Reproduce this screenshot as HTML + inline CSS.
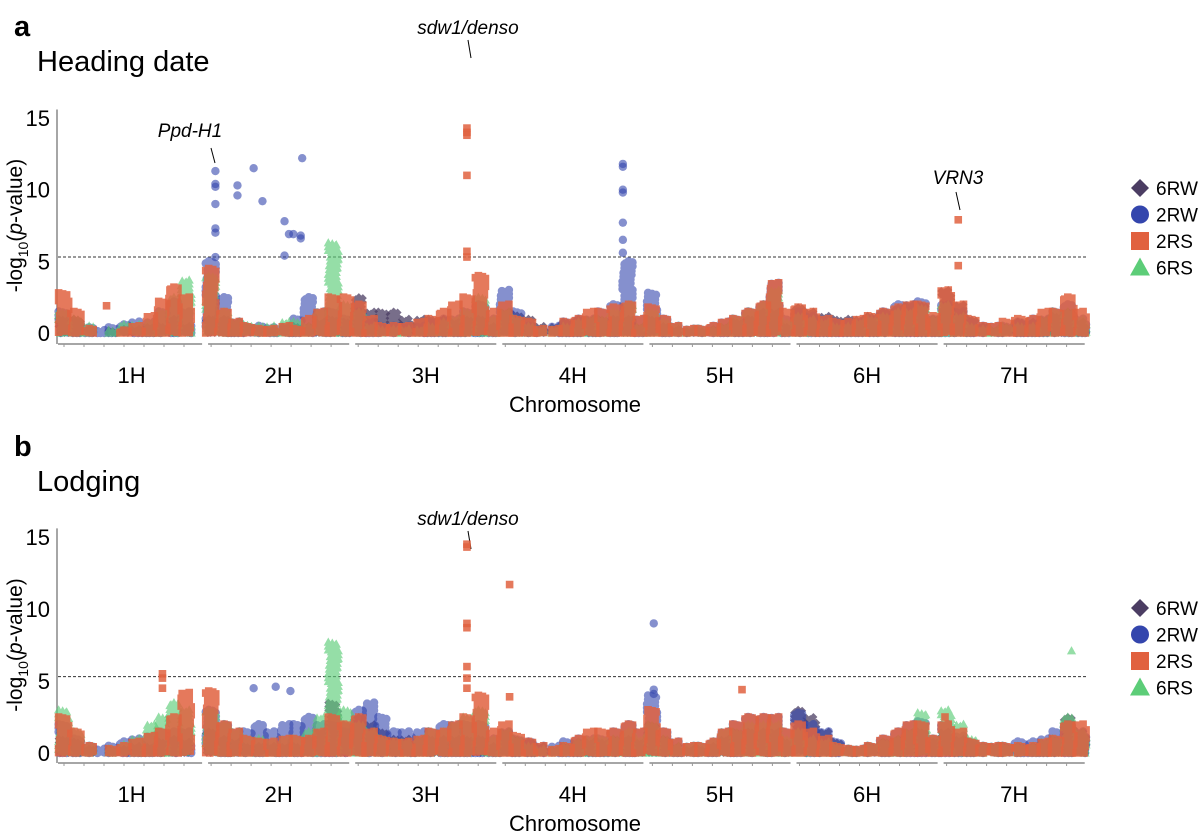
<!DOCTYPE html>
<html><head><meta charset="utf-8"><style>
body{margin:0;background:#fff;}
svg{display:block;font-family:"Liberation Sans",sans-serif;}
</style></head><body>
<svg id="chart" width="1200" height="832" viewBox="0 0 1200 832" xmlns="http://www.w3.org/2000/svg">
<g id="static"></g>
<g id="marks"></g>
</svg>
<script>
// ---- Data (12 bins per chromosome, -1 = no markers) ----
const chromosomes = ["1H","2H","3H","4H","5H","6H","7H"];
const seriesNames = ["6RW","2RW","6RS","2RS"];
const yTicks = [0,5,10,15];
const threshold = 5.3;
// Panel a: heading date
const hd_6RW = [1,1,0.3,-1,0.2,0.3,0.3,0.5,0.5,1,0.5,-1, 1,1,0.8,0.5,0.3,0.3,0.5,0.5,0.5,0.8,1,0.8, 2.5,1.5,1.5,1.5,1,1,1,1,0.8,1,1,0.5, 1.5,1.3,1,0.5,0.5,0.8,1,1,1,1,1,0.5, 1,0.5,0.3,0.2,0.2,0.3,0.5,0.8,1,1.5,1.5,0.5, 1.8,1.5,1.2,1,1,1,1.2,1.5,1.8,2,2,1, 3,2,1,0.5,0.3,0.5,0.8,0.8,1,1.2,1.5,0.8];
const hd_2RW = [1.5,0.8,0.4,0.2,0.4,0.6,0.8,0.8,1.5,2.2,1.5,-1, 5,2.5,0.8,0.5,0.5,0.4,0.5,1,2.5,1.5,1.5,1, 1.5,0.8,0.5,0.5,0.5,0.5,0.8,1,1,1.5,2,1, 3,1.5,0.5,0.3,0.5,0.8,1,1,1.5,2,5,1, 2.8,1,0.5,0.3,0.3,0.5,0.8,1,1.5,2,3.5,1, 1.5,1.2,1,0.8,0.8,0.8,1,1.5,2,2,2.2,1, 2,1.5,0.8,0.5,0.5,0.5,0.8,1,1,1.5,2,1];
const hd_6RS = [1.5,1,0.5,-1,0.2,0.6,0.6,0.8,1.5,2.5,3.7,-1, 4,1.5,0.8,0.6,0.5,0.5,0.8,0.8,0.5,1.5,6.3,2, 1.5,0.5,0.3,0.3,0.3,0.3,0.5,0.8,1,1.5,2.5,1, 1.5,1,0.5,0.3,0.3,0.5,0.8,1,1,1.5,2,0.5, 1.5,0.8,0.5,0.3,0.3,0.3,0.5,1,1.5,2,3,0.8, 1.2,1,0.8,0.5,0.5,0.8,1,1.2,1.5,1.5,1.8,1, 2,1.2,0.5,0.3,0.3,0.5,0.5,0.5,1,1.5,1.5,1];
const hd_2RS = [2.8,1.5,0.3,-1,-1,0.2,0.5,1.2,2.2,3.2,2.5,-1, 4.5,1.5,0.8,0.5,0.3,0.3,0.5,0.3,1,1.5,2.5,2.5, 2,1,0.5,0.5,0.5,0.8,1,1.5,2,2.5,4,1.5, 2,1,0.8,0.3,0.3,0.8,1,1.5,1.5,1.8,2,1, 1.8,1,0.5,0.3,0.3,0.5,0.8,1,1.5,2,3.5,1.5, 1.8,1.5,1,0.8,0.8,1,1.2,1.5,1.8,2,2,1.2, 3,2,1,0.5,0.5,0.8,1,1,1.5,1.5,2.5,1.5];
// outliers: [position (chromosome units), value]
const hd_out_2RW = [[1.07,11.3],[1.07,10.4],[1.07,10.2],[1.07,9],[1.07,7.3],[1.07,7],[1.07,5.3],[1.22,10.3],[1.22,9.6],[1.33,11.5],[1.39,9.2],[1.54,7.8],[1.54,5.4],[1.57,6.9],[1.60,6.9],[1.65,6.6],[1.65,6.8],[1.66,12.2],[3.84,11.8],[3.84,11.6],[3.84,10],[3.84,9.8],[3.84,7.7],[3.84,6.5],[3.84,5.6]];
const hd_out_2RS = [[2.78,14.3],[2.78,14],[2.78,13.8],[2.78,11],[2.78,5.7],[2.78,5.3],[6.12,7.9],[6.12,4.7],[0.33,1.9]];
const hd_out_6RS = [];
// Panel b: lodging
const lg_6RW = [1,0.8,0.3,-1,0.3,0.3,0.5,0.5,0.8,1,0.8,-1, 1.5,1,0.8,0.5,0.5,0.5,0.5,0.5,1,1.5,3.5,2, 2.5,2,1.5,1,1,1,1,1,1,1,1,0.5, 1.5,1,0.8,0.5,0.3,0.5,0.8,0.8,0.8,1,1,0.8, 2,1,0.5,0.3,0.3,0.5,1,1.5,1.5,1.5,1.5,0.8, 3,2.5,1.5,0.8,0.3,0.3,0.5,0.8,1,1.5,1.5,0.8, 1.5,1,0.8,0.5,0.5,0.5,0.5,0.5,0.8,1,2.5,1.5];
const lg_2RW = [2,1,0.5,0.3,0.5,0.8,1,1.2,1.5,1.5,1.5,-1, 3,2,1.5,1.5,2,1.5,2,2,2.5,2,2,1.5, 3,3.5,2.5,1.5,1.5,1.5,1.5,2,2,2,2,1, 1.5,1,0.8,0.5,0.5,0.8,1,1,1,1.5,2,1.5, 4,1.5,0.8,0.5,0.5,0.8,1.5,2,2.5,2.5,2.5,1.5, 2.8,2,1.5,0.8,0.3,0.3,0.5,1,1.5,2,2.2,1, 2,1.2,0.8,0.5,0.5,0.5,0.8,0.8,1,1.5,2,1.5];
const lg_6RS = [3,1.5,0.5,-1,0.3,0.6,1,2,2.5,3.5,3,-1, 3,2,1.5,1,1,0.8,1,1,1.5,2.5,7.7,3, 2,1.5,1,0.8,0.8,1,1.5,1.5,2,2.5,3,1, 1.5,1,0.5,0.3,0.3,0.5,0.8,1,1,1,1.5,1, 2,1,0.5,0.5,0.5,0.8,1.5,1.5,2,2,2,1, 1.5,1,0.8,0.5,0.3,0.3,0.5,0.8,1,1.5,2.8,1, 3,2,1,0.5,0.5,0.5,0.5,0.5,0.8,1,2.5,1.5];
const lg_2RS = [2.5,1.5,0.5,-1,0.3,0.5,0.8,1.2,1.5,2.5,4.2,-1, 4.3,2,1.5,1,0.8,0.8,1,1,1,1.5,2.5,2, 2.5,1.5,1,0.8,0.8,1,1.5,1.5,2,2.5,4,1.5, 2,1.2,0.8,0.5,0.3,0.5,1,1.5,1.5,1.5,2,1.5, 3,1.5,0.8,0.5,0.5,0.8,1.5,2,2.5,2.5,2.5,1.5, 2,1.5,1,0.5,0.3,0.3,0.5,1,1.5,2,2,1, 2,1.5,0.8,0.5,0.5,0.5,0.5,0.5,0.8,1,2,2];
const lg_out_2RW = [[1.33,4.5],[1.48,4.6],[1.58,4.3],[4.05,9],[4.05,4.4],[4.05,4.1]];
const lg_out_2RS = [[0.71,5.5],[0.71,5.2],[0.71,4.5],[2.78,14.5],[2.78,14.3],[2.78,9],[2.78,8.7],[2.78,6],[2.78,5.2],[2.78,4.5],[3.07,11.7],[3.07,3.9],[4.65,4.4],[6.03,2.5]];
const lg_out_6RS = [[6.89,7.1]];

// ---- Rendering ----
const NS="http://www.w3.org/2000/svg";
const SX0=58, SW=147.1;
function xScale(p){return SX0+p*SW;}
const panels=[
 {key:"a", title:"Heading date", y0:333, unit:14.33, axisY:344, top:0,
  series:{"6RW":hd_6RW,"2RW":hd_2RW,"6RS":hd_6RS,"2RS":hd_2RS},
  out:{"2RW":hd_out_2RW,"2RS":hd_out_2RS,"6RS":hd_out_6RS},
  ann:[["Ppd-H1",190,137,211,148,215,163],["sdw1/denso",468,34,468,40,471,58],["VRN3",958,184,956,192,960,210]]},
 {key:"b", title:"Lodging", y0:753, unit:14.4, axisY:763, top:420,
  series:{"6RW":lg_6RW,"2RW":lg_2RW,"6RS":lg_6RS,"2RS":lg_2RS},
  out:{"2RW":lg_out_2RW,"2RS":lg_out_2RS,"6RS":lg_out_6RS},
  ann:[["sdw1/denso",468,525,468,531,471,549]]}
];
const colors={"6RW":"#4b3d63","2RW":"#3446ad","6RS":"#5ccd78","2RS":"#e1613f"};
const opac={"6RW":0.75,"2RW":0.6,"6RS":0.65,"2RS":0.85};
function shape(s,x,y){
  if(s==="2RS") return `M${x-3.8},${y-3.8}h7.6v7.6h-7.6z`;
  if(s==="2RW") return `M${x-4.2},${y}a4.2,4.2 0 1,0 8.4,0a4.2,4.2 0 1,0 -8.4,0z`;
  if(s==="6RS") return `M${x},${y-4.6}L${x+4.6},${y+3.6}L${x-4.6},${y+3.6}z`;
  return `M${x},${y-4}L${x+4},${y}L${x},${y+4}L${x-4},${y}z`;
}
const st=document.getElementById('static'), mk=document.getElementById('marks');
function el(tag,attrs,parent,text){const e=document.createElementNS(NS,tag);for(const k in attrs)e.setAttribute(k,attrs[k]);if(text!==undefined)e.textContent=text;parent.appendChild(e);return e;}

panels.forEach(P=>{
  const g=el('g',{},st);
  
  
  const yS=v=>P.y0-v*P.unit;
  let t=el('text',{x:14,y:P.top+36,'font-size':29,'font-weight':'bold'},g,P.key);
  
  
  t=el('text',{x:37,y:P.top+71,'font-size':29},g,P.title);
  
  
  el('line',{x1:57,y1:yS(15.6),x2:57,y2:P.axisY,stroke:'#888','stroke-width':1.5},g);
  yTicks.forEach(v=>{
    const tt=el('text',{x:50,y:yS(v)+8,'font-size':22,'text-anchor':'end'},g,String(v));
    
    
  });
  const yt=el('text',{transform:`translate(22,${yS(7.5)}) rotate(-90)`,'font-size':21,'text-anchor':'middle'},g);
  
  
  yt.innerHTML='-log<tspan font-size="14" dy="6">10</tspan><tspan dy="-6">(</tspan><tspan font-style="italic">p</tspan>-value)';
  const th=el('line',{x1:58,y1:yS(threshold),x2:1088,y2:yS(threshold),stroke:'#333','stroke-width':1,'stroke-dasharray':'3,2'},g);
  
  
  chromosomes.forEach((c,i)=>{
    const a=xScale(i)+ (i?3:0), b=xScale(i+1)-3;
    el('line',{x1:a,y1:P.axisY,x2:b,y2:P.axisY,stroke:'#888','stroke-width':1.5},g);
    for(let k=0;k<7;k++){const tx=xScale(i)+6+k*20;if(tx<b)el('line',{x1:tx,y1:P.axisY,x2:tx,y2:P.axisY+3,stroke:'#999','stroke-width':1},g);}
    const ct=el('text',{x:xScale(i+0.5),y:P.axisY+39,'font-size':22,'text-anchor':'middle'},g,c);
    
    
  });
  const xt=el('text',{x:575,y:P.axisY+68,'font-size':22,'text-anchor':'middle'},g,'Chromosome');
  
  
  P.ann.forEach(a=>{
    const at=el('text',{x:a[1],y:a[2],'font-size':19,'font-style':'italic','text-anchor':'middle'},g,a[0]);
    
    
    el('line',{x1:a[3],y1:a[4],x2:a[5],y2:a[6],stroke:'#000','stroke-width':1},g);
  });
  const lyBase=P.top+188;
  ["6RW","2RW","2RS","6RS"].forEach((s,j)=>{
    const ly=lyBase+j*26.5;
    const lg=el('g',{},g);
    
    
    let d;
    if(s==="2RS") d=`M1131,${ly-9}h18v18h-18z`;
    else if(s==="2RW") d=`M1131,${ly}a9,9 0 1,0 18,0a9,9 0 1,0 -18,0z`;
    else if(s==="6RS") d=`M1140,${ly-10}L1150,${ly+8}L1130,${ly+8}z`;
    else d=`M1140,${ly-9}L1149,${ly}L1140,${ly+9}L1131,${ly}z`;
    el('path',{d:d,fill:colors[s]},lg);
    el('text',{x:1156,y:ly+7,'font-size':19},lg,s);
  });
  seriesNames.forEach(s=>{
    const arr=P.series[s];
    const sg=el('g',{fill:colors[s],'fill-opacity':opac[s]},mk);
    
    
    arr.forEach((v,i)=>{
      if(v<0) return;
      let d='';
      let k=0;
      for(let y=v;y>=0;y-=0.2){
        for(let r=0;r<3;r++){
          const f=((k*7+i*3+r*4)%11)/11;
          d+=shape(s,xScale((i+0.05+0.9*f)/12),yS(Math.max(0,y-r*0.07)));
        }
        k++;
      }
      const p=el('path',{d:d},sg);
      
      
    });
    (P.out[s]||[]).forEach((o,j)=>{
      const p=el('path',{d:shape(s,xScale(o[0]),yS(o[1]))},sg);
      
      
    });
  });
});
</script>
</body></html>
